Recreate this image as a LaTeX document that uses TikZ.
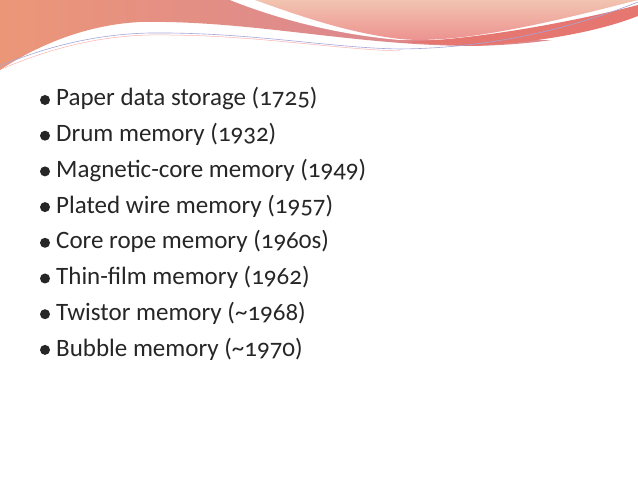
\documentclass[tikz,border=0pt]{standalone}
\usepackage{fontspec}
\setmainfont[Numbers=OldStyle]{Carlito}
\definecolor{pkL}{RGB}{236,150,120}
\definecolor{pkR}{RGB}{222,138,140}
\definecolor{peT}{RGB}{242,196,176}
\definecolor{peB}{RGB}{236,140,140}
\definecolor{redstrip}{RGB}{232,110,100}
\begin{document}
\begin{tikzpicture}[x=1pt,y=-1pt,
  item/.style={anchor=west,inner sep=0pt,font=\fontsize{25}{30}\selectfont,text=black!85},
  dot/.style={circle,fill=black!85,inner sep=0pt,minimum size=10pt}]
\useasboundingbox (0,0) rectangle (638,478);
\fill[white] (0,0) rectangle (638,478);
% main pink band
\shade[left color=pkL, right color=pkR, middle color=pkR]
 (0,0) -- (638,0) -- (638,16) .. controls (600,35) and (540,45) .. (470,46)
 .. controls (350,45) and (250,20) .. (140,22) .. controls (80,25) and (30,50) .. (0,70) -- cycle;
% white gap
\fill[white] (230,0) .. controls (280,20) and (340,35) .. (400,40) -- (638,40) -- (638,0) -- cycle;
% peach shape
\shade[top color=peT, bottom color=peB]
 (255,0) .. controls (305,18) and (350,33) .. (400,39) .. controls (460,45) and (560,20) .. (638,0) -- cycle;
% red-ish strip near right
\fill[redstrip!70!pkR] (400,42) .. controls (480,40) and (580,20) .. (638,5) -- (638,16) .. controls (590,35) and (520,44) .. (470,46) -- cycle;
% thin lines
\draw[gray!60!blue!50, line width=0.6pt] (0,66) .. controls (50,45) and (100,34) .. (150,33) .. controls (250,32) and (330,48) .. (400,49) .. controls (500,48) and (580,25) .. (638,2);
\draw[red!30, line width=0.5pt] (2,69) .. controls (50,48) and (100,36) .. (150,35) .. controls (250,34) and (330,49) .. (400,51);
% items
\foreach \t [count=\i] in {Paper data storage (1725),Drum memory (1932),Magnetic-core memory (1949),Plated wire memory (1957),Core rope memory (1960s),Thin-film memory (1962),Twistor memory (\textasciitilde 1968),Bubble memory (\textasciitilde 1970)}{
  \node[dot] (b\i) at (45,{100+(\i-1)*35.7}) {};
  \node[item] (t\i) at (56,{99+(\i-1)*35.7}) {\t};
}
\end{tikzpicture}
\end{document}
